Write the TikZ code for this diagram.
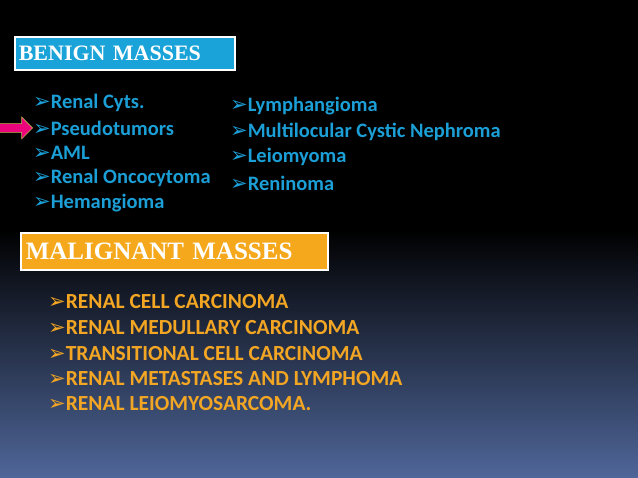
\documentclass[tikz,border=0pt]{standalone}
\usepackage{fontspec}
\setmainfont{Carlito}
\newfontfamily\hfont{Liberation Serif}
\newfontfamily\symf{DejaVu Sans}
\usetikzlibrary{shapes.arrows}
\definecolor{cy}{HTML}{1AA3D8}
\definecolor{bl}{HTML}{1B9FD6}
\definecolor{og}{HTML}{F5A81C}
\definecolor{ot}{HTML}{F2A623}
\definecolor{bot}{HTML}{4F6699}
\newcommand{\bul}{{\symf\fontsize{21}{21}\selectfont ➢}}
\begin{document}
\begin{tikzpicture}[x=1pt,y=-1pt,
  btxt/.style={anchor=west,text=bl,font=\bfseries\fontsize{20.5}{20.5}\selectfont,inner sep=0pt},
  mtxt/.style={anchor=west,text=ot,font=\bfseries\fontsize{21.5}{21.5}\selectfont,inner sep=0pt},
  head/.style={draw=white,line width=1.6pt,anchor=west,text=white,font=\hfont\bfseries\fontsize{22}{22}\selectfont}]
\useasboundingbox (0,0) rectangle (638,478);
\fill[black] (0,0) rectangle (638,230);
\shade[top color=black,bottom color=bot] (0,229) rectangle (638,478);
\node[head,fill=cy,minimum width=220,minimum height=33,inner xsep=4pt,text width=212] (bh) at (14,53.5) {BENIGN MASSES};
\node[head,fill=og,minimum width=307,minimum height=37,inner xsep=5pt,text width=297,font=\hfont\bfseries\fontsize{25}{25}\selectfont] (mh) at (20,251.5) {MALIGNANT MASSES};
\node[btxt] (b1) at (33,103) {\bul Renal Cyts.};
\node[btxt] (b2) at (33,128) {\bul Pseudotumors};
\node[btxt] (b3) at (33,153) {\bul AML};
\node[btxt] (b4) at (33,178) {\bul Renal Oncocytoma};
\node[btxt] (b5) at (33,203) {\bul Hemangioma};
\node[btxt] (c1) at (230,106) {\bul Lymphangioma};
\node[btxt] (c2) at (230,132) {\bul Multilocular Cystic Nephroma};
\node[btxt] (c3) at (230,157) {\bul Leiomyoma};
\node[btxt] (c4) at (230,183) {\bul Reninoma};
\node[single arrow,fill=magenta!85!red,draw=olive!60,line width=0.6pt,minimum height=40,minimum width=22,single arrow head extend=2pt,inner sep=1pt,anchor=east] (ar) at (b2.west) {};
\node[mtxt] (m1) at (48,302) {\bul RENAL CELL CARCINOMA};
\node[mtxt] (m2) at (48,328) {\bul RENAL MEDULLARY CARCINOMA};
\node[mtxt] (m3) at (48,354) {\bul TRANSITIONAL CELL CARCINOMA};
\node[mtxt] (m4) at (48,379) {\bul RENAL METASTASES AND LYMPHOMA};
\node[mtxt] (m5) at (48,404) {\bul RENAL LEIOMYOSARCOMA.};
\end{tikzpicture}
\end{document}
